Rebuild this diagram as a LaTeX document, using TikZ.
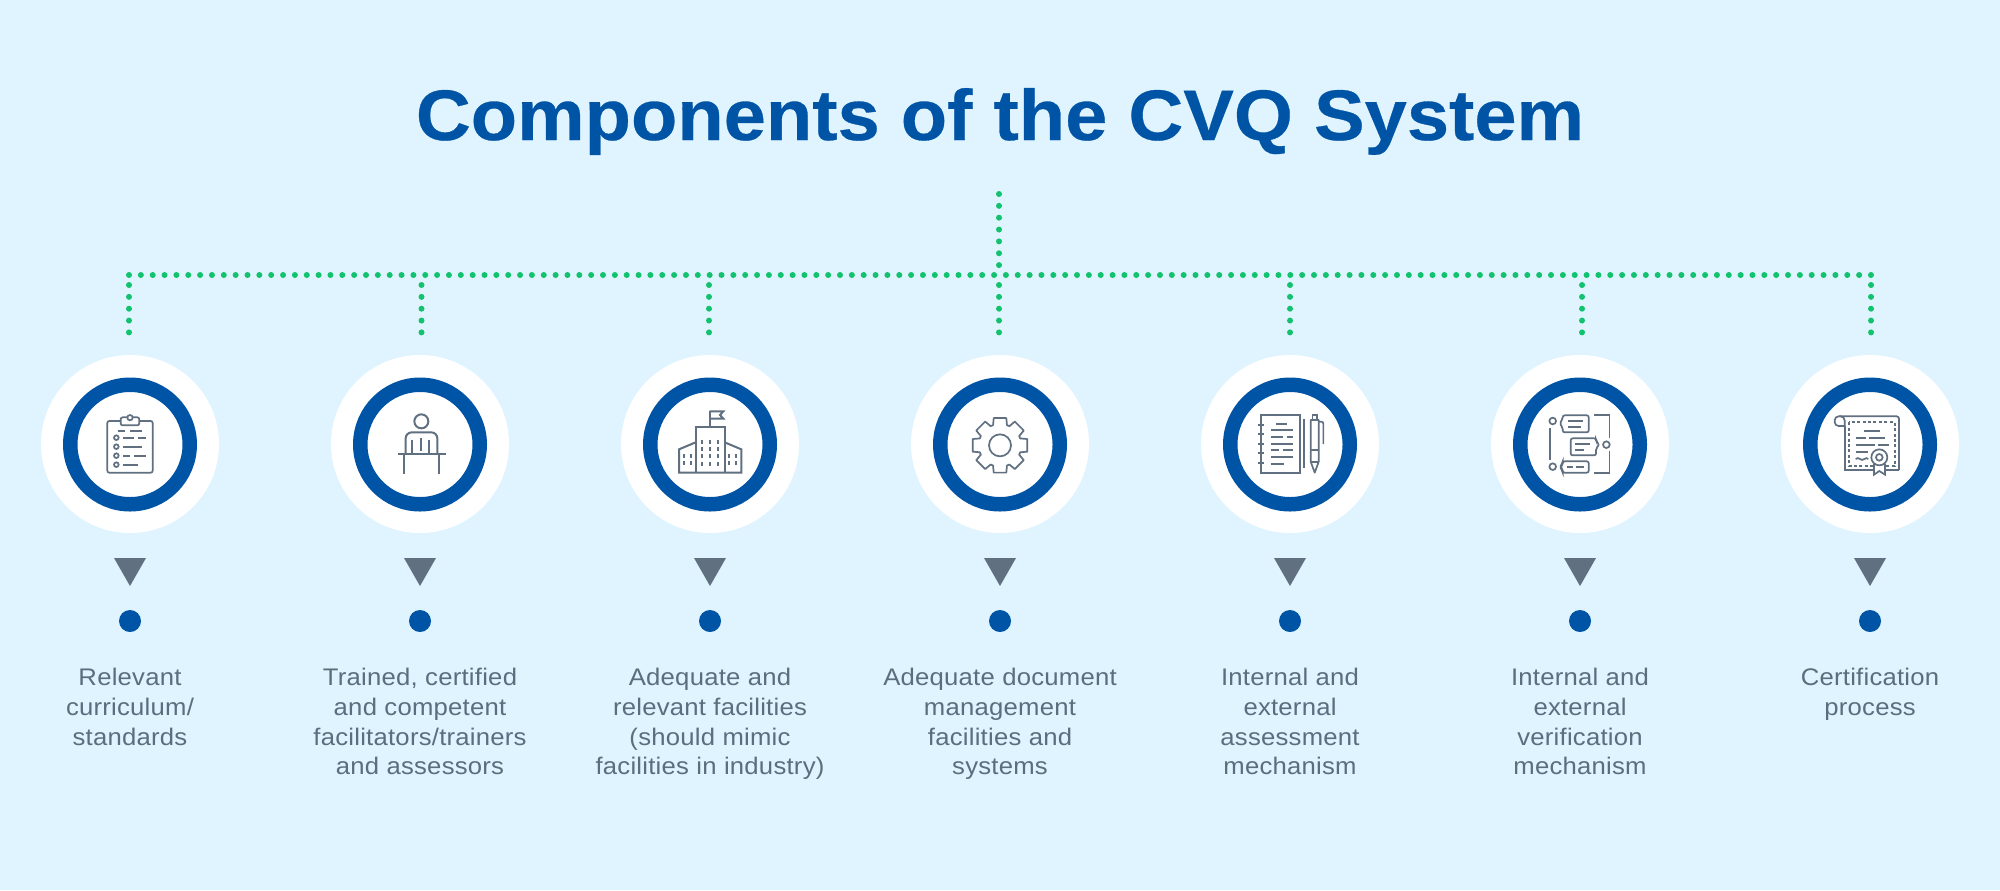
\documentclass[tikz,border=0pt]{standalone}
\usepackage{fontspec}
\setmainfont{Liberation Sans}
\newfontfamily\titlef[FakeStretch=1.06,BoldFeatures={FakeBold=0.4}]{Liberation Sans}
\newfontfamily\bodyf[FakeStretch=1.07,LetterSpace=1.0]{Liberation Sans}
\definecolor{bgc}{HTML}{DFF4FE}
\definecolor{bluec}{HTML}{0054A6}
\definecolor{greyc}{HTML}{607080}
\definecolor{txtc}{HTML}{5A6E7E}
\definecolor{greenc}{HTML}{12C26E}
\tikzset{
  disc/.style={circle,fill=white,draw=none,minimum size=89pt,inner sep=0pt},
  ring/.style={circle,draw=bluec,line width=7.25pt,fill=white,minimum size=59.75pt,inner sep=0pt},
  spot/.style={circle,fill=bluec,draw=none,minimum size=11pt,inner sep=0pt},
  label/.style={align=center,anchor=north,text=txtc,inner sep=0pt,font=\bodyf\fontsize{12}{14.8}\selectfont},
  dotline/.style={draw=greenc,line width=3pt,line cap=round,dash pattern=on 0pt off 5.925pt},
  iconat/.style={shift={(#1,444)},x=0.16667pt,y=-0.16667pt,draw=greyc,line width=0.85pt},
}
\begin{document}
\begin{tikzpicture}[x=0.5pt,y=-0.5pt]
\useasboundingbox (0,0) rectangle (2000,890);
\fill[bgc] (0,0) rectangle (2000,890);
\node[text=bluec,inner sep=0pt,anchor=base] (title) at (1000,140) {\titlef\fontsize{35.8}{36}\selectfont\bfseries Components of the CVQ System};

% bus
\coordinate (stem) at (999,194);
\coordinate (busc) at (999,275);
\coordinate (busl) at (129,275);
\coordinate (busr) at (1871.5,275);
\draw[dotline] (stem) -- (busc);
\draw[dotline] (busl) -- (busr);
\foreach \i/\bx in {1/129,2/421.5,3/709,4/999,5/1290,6/1582,7/1871}{
  \coordinate (dt\i) at (\bx,285);
  \coordinate (db\i) at (\bx,334);
  \draw[dotline] (dt\i) -- (db\i);
}
% columns
\foreach \i/\x in {1/130,2/420,3/710,4/1000,5/1290,6/1580,7/1870}{
  \node[disc] (d\i) at (\x,444) {};
  \node[ring] (r\i) at (\x,444.5) {};
  \fill[greyc] (\x-16,558) -- (\x+16,558) -- (\x,586) -- cycle;
  \node[spot] (s\i) at (\x,621) {};
}
\path (130,668) node[label] (t1) {Relevant\\curriculum/\\standards};
\path (420,668) node[label] (t2) {Trained, certified\\and competent\\facilitators/trainers\\and assessors};
\path (710,668) node[label] (t3) {Adequate and\\relevant facilities\\(should mimic\\facilities in industry)};
\path (1000,668) node[label] (t4) {Adequate document\\management\\facilities and\\systems};
\path (1290,668) node[label] (t5) {Internal and\\external\\assessment\\mechanism};
\path (1580,668) node[label] (t6) {Internal and\\external\\verification\\mechanism};
\path (1870,668) node[label] (t7) {Certification\\process};

% icon 1 clipboard
\begin{scope}[iconat=130]
\draw[rounded corners=1pt] (-28,-69) -- (-68,-69) -- (-68,86) -- (68,86) -- (68,-69) -- (28,-69);
\draw[rounded corners=1pt,fill=white] (-28,-80) rectangle (28,-56);
\draw[fill=white] (0,-79) circle[radius=8];
\draw (-37,-40) -- (-15,-40) (0,-40) -- (37,-40);
\foreach \y in {-19,8,35,62} \draw (-41,\y) circle[radius=7];
\draw (-20,-19) -- (12,-19) (25,-19) -- (49,-19);
\draw (-20,8) -- (35,8);
\draw (-20,35) -- (0,35) (12,35) -- (49,35);
\draw (-20,62) -- (25,62);
\end{scope}
% icon 2 person at desk
\begin{scope}[iconat=420,line width=1pt]
\draw (4,-68) circle[radius=21];
\draw[rounded corners=3pt] (-43,29) -- (-43,-35) -- (52,-35) -- (52,29);
\draw (-23,29) -- (-23,-12) (28,29) -- (28,-12) (2,20) -- (2,-17);
\draw (-66,29) -- (77,29);
\draw (-49,29) -- (-49,90) (58,29) -- (58,90);
\end{scope}
% icon 3 building
\begin{scope}[iconat=710,line width=1pt]
\draw (-43,86) -- (-43,-50) -- (44,-50) -- (44,86);
\draw (-1,-50) -- (-1,-100);
\draw[line join=miter] (-1,-98) -- (40,-98) -- (30,-87) -- (40,-76) -- (-1,-76);
\draw (-43,-5) -- (-93,16) -- (-93,86) -- (94,86) -- (94,16) -- (44,-5);
\begin{scope}[dash pattern=on 2pt off 1.6pt]
\foreach \c in {-25,0,25} \draw (\c,-12) -- (\c,70);
\foreach \c in {-78,-56,57,78} \draw (\c,30) -- (\c,70);
\end{scope}
\end{scope}
% icon 4 gear
\begin{scope}[iconat=1000]
\draw (0,4) circle[radius=33];
\begin{scope}[shift={(0,4)}]
\draw[line join=round] (-19:64)
  \foreach \a in {0,45,...,315}{ -- ({\a-19}:64) -- ({\a-13}:84) -- ({\a+13}:84) -- ({\a+19}:64) } -- cycle;
\end{scope}
\end{scope}
% icon 5 notebook and pen
\begin{scope}[iconat=1289.7]
\draw (-86,-87) rectangle (30,86);
\foreach \y in {-58,-29,0,28,56} \draw (-94,\y) -- (-77,\y);
\draw (-41,-61) -- (-7,-61);
\draw (-57,-42) -- (11,-42);
\draw (-57,-21) -- (-19,-21) (-9,-21) -- (11,-21);
\draw (-57,-1) -- (11,-1);
\draw (-57,19) -- (-31,19) (-21,19) -- (11,19);
\draw (-57,39) -- (11,39);
\draw (-57,59) -- (-17,59);
\draw (43,-74) -- (43,73);
\draw[line join=round] (63,-72) -- (63,53) -- (75,86) -- (87,53) -- (87,-72) -- cycle;
\draw (68,-72) -- (68,-87) -- (82,-87) -- (82,-72);
\draw (63,18) -- (87,18) (63,53) -- (87,53);
\draw[rounded corners=1pt] (87,-67) -- (101,-67) -- (101,0);
\end{scope}
% icon 6 flow
\begin{scope}[iconat=1579.7]
\draw[rounded corners=1pt] (-51,-86) -- (27,-86) -- (27,-35) -- (-51,-35) -- (-51,-50) -- (-61,-62) -- (-51,-74) -- cycle;
\draw (-34,-69) -- (9,-69) (-34,-52) -- (3,-52);
\draw (-81,-69) circle[radius=10] (-81,68) circle[radius=10];
\draw (-89,-47) -- (-89,48);
\draw[rounded corners=1pt] (-51,52) -- (27,52) -- (27,86) -- (-51,86) -- (-51,80) -- (-61,69) -- (-51,58) -- cycle;
\draw (-39,69) -- (-21,69) (-11,69) -- (13,69);
\draw[rounded corners=1pt] (-27,-17) -- (49,-17) -- (49,-8) -- (59,2) -- (49,12) -- (49,34) -- (-27,34) -- cycle;
\draw (-14,0) -- (31,0) (-14,18) -- (13,18);
\draw (80,2) circle[radius=10];
\draw (43,-86) -- (89,-86) -- (89,-17) (89,21) -- (89,86) -- (43,86);
\end{scope}
% icon 7 certificate
\begin{scope}[iconat=1869.3]
\draw[rounded corners=1.2pt] (-90,-83) -- (89,-83) -- (89,78);
\draw (89,78) -- (-74,78) -- (-74,-54);
\draw[rounded corners=2pt] (-74,-54) -- (-104,-54) -- (-104,-83) -- (-74,-83) -- (-74,-54);
\draw[dash pattern=on 1.5pt off 1.2pt] (-61,-65) rectangle (76,66);
\draw (-16,-40) -- (32,-40);
\draw (-41,-18) -- (-11,-18) (0,-18) -- (48,-18);
\draw (-41,2) -- (17,2) (27,2) -- (60,2);
\draw (-41,23) -- (-3,23);
\draw (-41,45) .. controls (-32,35) and (-24,55) .. (-15,45) .. controls (-10,41) and (-7,42) .. (-3,45);
\draw[fill=white] (14,60) -- (14,92) -- (30,81) -- (47,92) -- (47,60);
\draw[fill=white] (30,40) circle[radius=24];
\draw (30,40) circle[radius=10];
\end{scope}
\end{tikzpicture}
\end{document}
